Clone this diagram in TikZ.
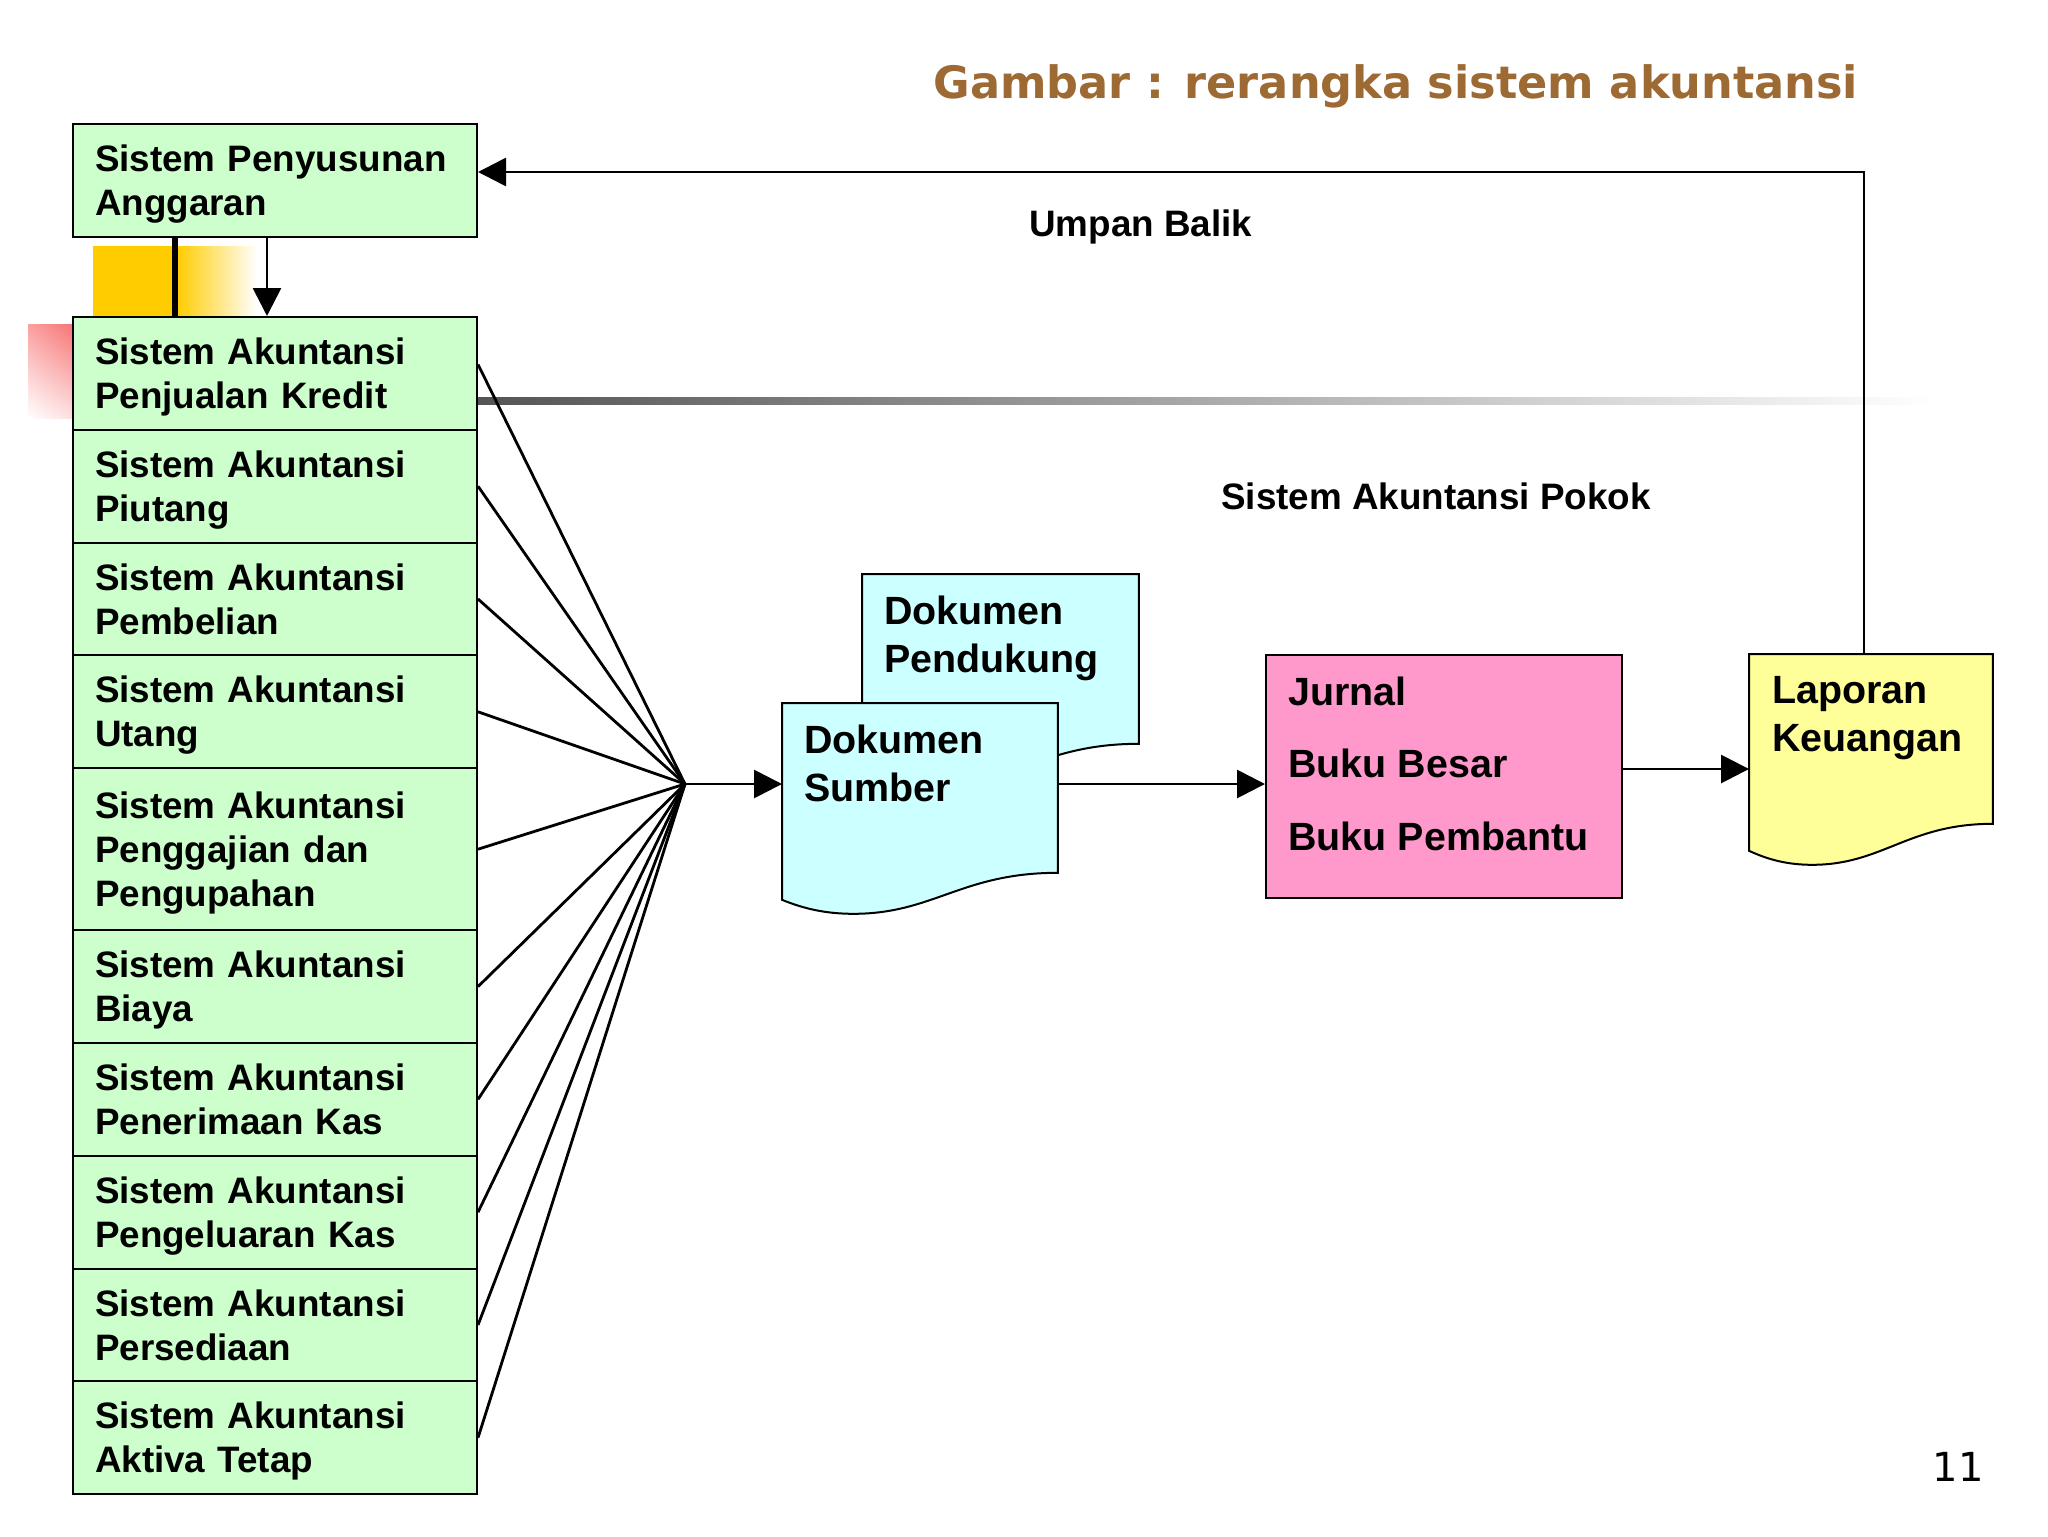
\documentclass[tikz,border=0pt]{standalone}
\usepackage{fontspec}
\setmainfont{Liberation Sans}
\newfontfamily\titlefont{DejaVu Sans}
\usetikzlibrary{arrows.meta,calc,shadings}
\definecolor{boxgreen}{HTML}{CCFFCC}
\definecolor{doccyan}{HTML}{CCFFFF}
\definecolor{jurpink}{HTML}{FF99CC}
\definecolor{lapyellow}{HTML}{FFFF99}
\definecolor{titlebrown}{HTML}{9C6A32}
\definecolor{decoyellow}{HTML}{FFCC00}
\definecolor{redUR}{RGB}{245,90,90}
\definecolor{redUL}{RGB}{250,160,160}
\definecolor{redLR}{RGB}{252,205,205}
\newcommand\lstrut{\rule[-4pt]{0pt}{21pt}}
\newcommand\rstrut{\rule[-5pt]{0pt}{23pt}}
\newcommand\docshape[3]{%
  \draw[line width=1pt, fill=#3] (#1.north west) -- (#1.north east) -- ($(#1.south east)+(0,-27)$)
    .. controls ($(#1.south east)+(-0.35*#2,-27)$) and ($(#1.south west)+(0.55*#2,14)$) .. ($(#1.south west)+(0.26*#2,14)$)
    .. controls ($(#1.south west)+(0.16*#2,14)$) and ($(#1.south west)+(0.08*#2,9)$) .. (#1.south west) -- cycle;}
\begin{document}
\begin{tikzpicture}[x=0.5pt,y=-0.5pt,
  sbox/.style={draw=black, line width=1pt, fill=boxgreen, anchor=north west,
    minimum width=202pt, minimum height=#1, text width=180pt, align=left,
    inner xsep=11pt, inner ysep=0pt, font=\bfseries\fontsize{18.4pt}{22pt}\selectfont},
  docarea/.style n args={2}{draw=none, inner sep=0pt, anchor=north west, minimum width=#1, minimum height=#2},
  doctext/.style={anchor=north west, inner sep=0pt, align=left, font=\bfseries\fontsize{19.7pt}{24pt}\selectfont},
  lbl/.style={anchor=base west, inner sep=0pt, font=\bfseries\fontsize{18.4pt}{22pt}\selectfont},
  conn/.style={line width=1.4pt},
  arr/.style={line width=1.4pt, -{Triangle[length=14pt,width=14pt]}}]
\useasboundingbox (0,0) rectangle (2048,1536);
\fill[white] (0,0) rectangle (2048,1536);

% decorations
\fill[decoyellow] (93,246) rectangle (177,316);
\shade[left color=decoyellow, right color=white] (177,246) rectangle (257,316);
\shade[upper left=redUL, upper right=redUR, lower left=white, lower right=redLR] (28,324) rectangle (100,418);
\shade[left color=black!67, right color=white] (476,397.5) rectangle (1935,404.5);

% title
\node[anchor=base west, inner sep=0pt, text=titlebrown, font=\titlefont\bfseries\fontsize{22.3pt}{27pt}\selectfont] (title) at (933,98) {Gambar : rerangka sistem akuntansi};

% left boxes
\node[sbox=56.5pt] (ang) at (72,123) {\lstrut Sistem Penyusunan\\Anggaran\lstrut};
\node[sbox=56.4pt] (b1) at (72,316) {\lstrut Sistem Akuntansi\\Penjualan Kredit\lstrut};
\node[sbox=56.4pt] (b2) at (72,428.8) {\lstrut Sistem Akuntansi\\Piutang\lstrut};
\node[sbox=56.4pt] (b3) at (72,541.6) {\lstrut Sistem Akuntansi\\Pembelian\lstrut};
\node[sbox=56.4pt] (b4) at (72,654.4) {\lstrut Sistem Akuntansi\\Utang\lstrut};
\node[sbox=81pt] (b5) at (72,767.2) {\lstrut Sistem Akuntansi\\Penggajian dan\\Pengupahan\lstrut};
\node[sbox=56.4pt] (b6) at (72,929.2) {\lstrut Sistem Akuntansi\\Biaya\lstrut};
\node[sbox=56.4pt] (b7) at (72,1042) {\lstrut Sistem Akuntansi\\Penerimaan Kas\lstrut};
\node[sbox=56.4pt] (b8) at (72,1154.8) {\lstrut Sistem Akuntansi\\Pengeluaran Kas\lstrut};
\node[sbox=56.4pt] (b9) at (72,1267.6) {\lstrut Sistem Akuntansi\\Persediaan\lstrut};
\node[sbox=56.4pt] (b10) at (72,1380.4) {\lstrut Sistem Akuntansi\\Aktiva Tetap\lstrut};

% link Anggaran -> Penjualan
\draw[line width=3pt] ($(ang.south)+(-100,0)$) -- ($(b1.north)+(-100,0)$);
\draw[arr] ($(ang.south)+(-8,0)$) -- ($(b1.north)+(-8,0)$);

% documents
\node[docarea={138pt}{98pt}] (pend) at (862,574) {};
\node[docarea={137.5pt}{98pt}] (sum) at (782,703) {};
\node[docarea={121.5pt}{98pt}] (lap) at (1749,654) {};
\docshape{pend}{276}{doccyan}
\docshape{sum}{275}{doccyan}
\docshape{lap}{243}{lapyellow}
\node[doctext] (pendt) at (884,588) {\rstrut Dokumen\\Pendukung\rstrut};
\node[doctext] (sumt) at (804,717) {\rstrut Dokumen\\Sumber\rstrut};
\node[doctext] (lapt) at (1772,667) {\rstrut Laporan\\Keuangan\rstrut};

% jurnal box
\node[draw=black, line width=1pt, fill=jurpink, anchor=north west, inner sep=0pt, minimum width=178pt, minimum height=121.5pt] (jur) at (1265,654) {};
\node[anchor=north west, inner sep=0pt, align=left, font=\bfseries\fontsize{19.7pt}{36.25pt}\selectfont] (jurt) at (1288,669) {\rstrut Jurnal\\Buku Besar\\Buku Pembantu\rstrut};

% labels
\node[lbl] (umpan) at (1029,236) {Umpan Balik};
\node[lbl] (pokok) at (1221,509) {Sistem Akuntansi Pokok};
\node[anchor=center, inner sep=0pt, font=\titlefont\fontsize{20pt}{24pt}\selectfont] (pnum) at (1958,1467) {11};

% fan connectors
\coordinate (hub) at (685,784);
\draw[conn] ($(b1.east)+(0,-9)$) -- (hub);
\foreach \i in {2,...,10} {\draw[conn] (b\i.east) -- (hub);}
\draw[arr] (hub) -- (hub -| sum.west);
\draw[arr] (hub -| sum.east) -- (hub -| jur.west);
\coordinate (j2l) at ($(jur.east)+(0,-7.5)$);
\draw[arr] (j2l) -- (j2l -| lap.west);
\coordinate (fbup) at ($(lap.north)+(-7,0)$);
\coordinate (fbin) at ($(ang.east)+(0,-8.5)$);
\draw[arr] (fbup) |- (fbin);
\end{tikzpicture}
\end{document}
